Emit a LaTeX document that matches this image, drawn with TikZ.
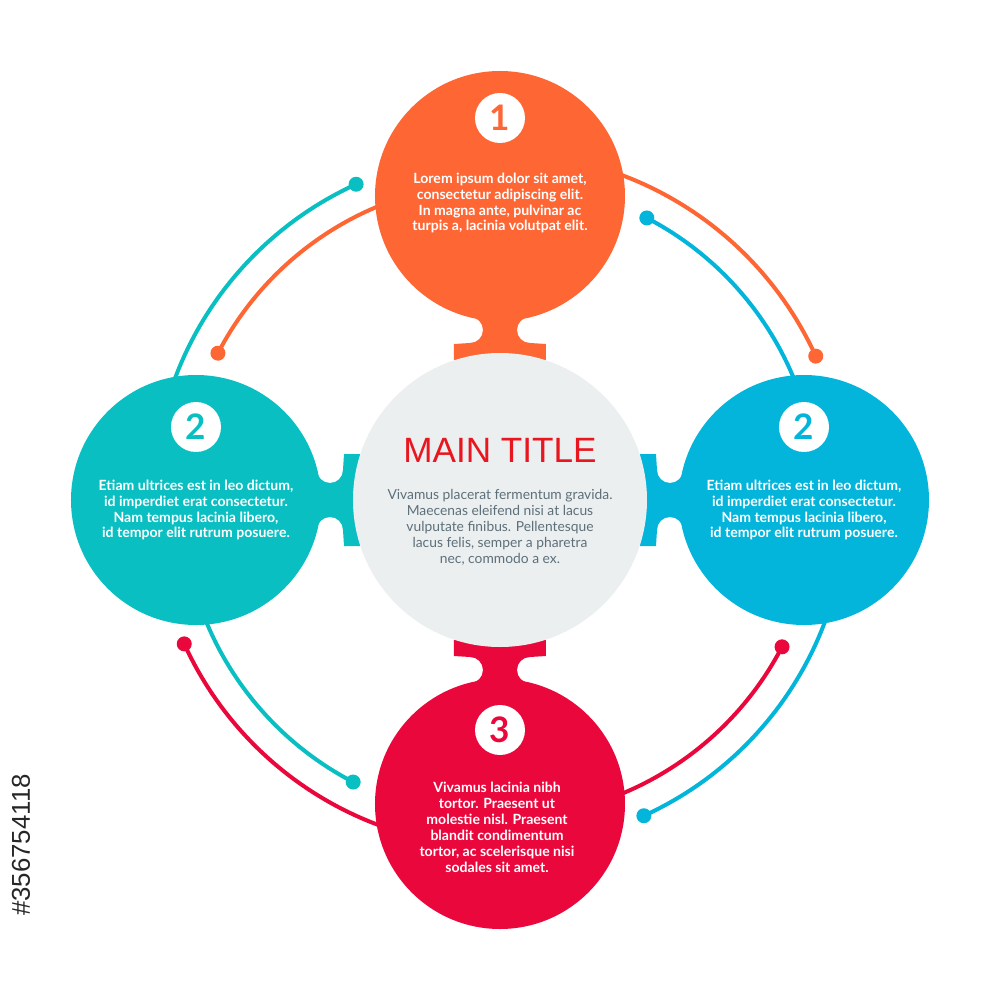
\documentclass[tikz,border=0pt]{standalone}
\usepackage{fontspec}
\setmainfont{Lato}
\newfontfamily\titlefont{Liberation Sans}
\usetikzlibrary{calc}

\definecolor{infoorange}{HTML}{FE6634}
\definecolor{infoteal}{HTML}{0ABFC2}
\definecolor{infoblue}{HTML}{03B5DB}
\definecolor{infored}{HTML}{EA073C}
\definecolor{infogrey}{HTML}{ECEFF0}
\definecolor{titlered}{HTML}{E8161E}
\definecolor{bodygrey}{HTML}{5D6F79}

\tikzset{
  bubble/.style={circle, minimum size=75mm, inner sep=0pt},
  core/.style={circle, fill=infogrey, minimum size=88.2mm, inner sep=0pt},
  numdot/.style={circle, fill=white, minimum size=15mm, inner sep=0pt,
    font=\bfseries\fontsize{30}{30}\selectfont},
  bubbletext/.style={text=white, align=center,
    font=\bfseries\fontsize{12}{13.6}\selectfont},
  ring/.style={line width=1.2mm},
}

\begin{document}
\begin{tikzpicture}[x=0.3mm, y=0.3mm]
      \useasboundingbox (-500,-500) rectangle (500,500);

      % Arcs between the bubbles, with a dot at the free end
      \foreach \a/\c in {90/infoorange, 180/infoteal, 270/infored, 0/infoblue}{
        \draw[ring, \c] (\a-10:347) arc[start angle=\a-10, end angle=\a-65.5, radius=347];
        \fill[\c] (\a-65.5:347) circle[radius=7.5];
        \draw[ring, \c] (\a+10:318) arc[start angle=\a+10, end angle=\a+62.5, radius=318];
        \fill[\c] (\a+62.5:318) circle[radius=7.5];
      }

      % Necks joining each bubble to the centre
      \foreach \a/\c in {90/infoorange, 180/infoteal, 270/infored, 0/infoblue}{
        \fill[\c, rotate=\a-90] (-46,140) -- (-46,156) -- (-30,157)
          arc[start angle=-90, end angle=90, radius=13] -- (-30,192) -- (30,192) -- (30,183)
          arc[start angle=90, end angle=270, radius=13] -- (46,156) -- (46,140) -- cycle;
      }

      % Bubbles
      \node[bubble, fill=infoorange] (first) at (90:304) {};
      \node[bubble, fill=infoteal] (secondl) at (180:304) {};
      \node[bubble, fill=infoblue] (secondr) at (0:304) {};
      \node[bubble, fill=infored] (third) at (270:304) {};

      % Centre circle
      \node[core] (core) at (0,0) {};
      \node[text=titlered, font=\titlefont\fontsize{30}{30}\selectfont] (title) at (0,50) {MAIN TITLE};
      \node[text=bodygrey, align=center, font=\fontsize{11.8}{13.6}\selectfont] (body) at (0,-27)
        {Vivamus placerat fermentum gravida.\\ Maecenas eleifend nisi at lacus\\ vulputate finibus. Pellentesque\\ lacus felis, semper a pharetra\\ nec, commodo a ex.};

      % Numbers
      \node[numdot, text=infoorange] (num1) at ($(first)+(0,78)$) {1};
      \node[numdot, text=infoteal] (num2l) at ($(secondl)+(0,73)$) {2};
      \node[numdot, text=infoblue] (num2r) at ($(secondr)+(0,73)$) {2};
      \node[numdot, text=infored] (num3) at ($(third)+(0,74)$) {3};

      % Bubble texts
      \node[bubbletext] (text1) at ($(first)+(0,-7)$)
        {Lorem ipsum dolor sit amet,\\ consectetur adipiscing elit.\\ In magna ante, pulvinar ac\\ turpis a, lacinia volutpat elit.};
      \node[bubbletext] (text2l) at ($(secondl)+(0,-10)$)
        {Etiam ultrices est in leo dictum,\\ id imperdiet erat consectetur.\\ Nam tempus lacinia libero,\\ id tempor elit rutrum posuere.};
      \node[bubbletext] (text2r) at ($(secondr)+(0,-10)$)
        {Etiam ultrices est in leo dictum,\\ id imperdiet erat consectetur.\\ Nam tempus lacinia libero,\\ id tempor elit rutrum posuere.};
      \node[bubbletext] (text3) at ($(third)+(-3,-23)$)
        {Vivamus lacinia nibh\\ tortor. Praesent ut\\ molestie nisl. Praesent\\ blandit condimentum\\ tortor, ac scelerisque nisi\\ sodales sit amet.};

      % Image number on the left edge
      \node[rotate=90, text=black!85, font=\titlefont\fontsize{22}{22}\selectfont] (stockid) at (-479,-345) {\#356754118};
\end{tikzpicture}
\end{document}
